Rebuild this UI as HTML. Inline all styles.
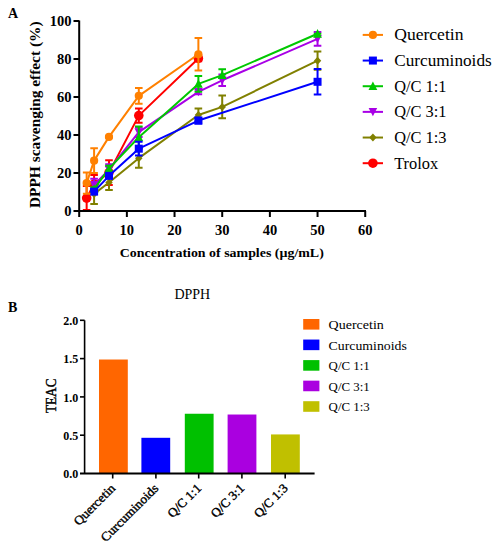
<!DOCTYPE html>
<html><head><meta charset="utf-8"><style>
html,body{margin:0;padding:0;background:#fff;width:500px;height:550px;overflow:hidden}
svg{display:block}
text{font-family:"Liberation Serif",serif}
</style></head><body>
<svg width="500" height="550" viewBox="0 0 500 550">
<rect width="500" height="550" fill="#fff"/>
<g stroke="#FF0000" stroke-width="2" fill="none"><path d="M86.65 198.08 L94.10 184.02 L108.99 172.62 L138.79 115.62 L198.38 58.43" stroke-linejoin="round"/><path d="M86.65 186.11V210.05M82.85 186.11H90.45M82.85 210.05H90.45"/><path d="M94.10 174.90V193.14M90.30 174.90H97.90M90.30 193.14H97.90"/><path d="M108.99 160.27V184.97M105.19 160.27H112.79M105.19 184.97H112.79"/><path d="M138.79 108.59V122.65M134.99 108.59H142.59M134.99 122.65H142.59"/><path d="M198.38 55.58V61.28M194.57 55.58H202.18M194.57 61.28H202.18"/></g><circle cx="86.65" cy="198.08" r="4.8" fill="#FF0000"/><circle cx="94.10" cy="184.02" r="4.8" fill="#FF0000"/><circle cx="108.99" cy="172.62" r="4.8" fill="#FF0000"/><circle cx="138.79" cy="115.62" r="4.8" fill="#FF0000"/><circle cx="198.38" cy="58.43" r="4.8" fill="#FF0000"/>
<g stroke="#808000" stroke-width="2" fill="none"><path d="M94.10 193.90 L108.99 182.50 L138.79 158.18 L198.38 115.05 L222.21 106.88 L317.55 60.71" stroke-linejoin="round"/><path d="M94.10 183.83V203.97M90.30 183.83H97.90M90.30 203.97H97.90"/><path d="M108.99 174.90V190.10M105.19 174.90H112.79M105.19 190.10H112.79"/><path d="M138.79 148.68V167.68M134.99 148.68H142.59M134.99 167.68H142.59"/><path d="M198.38 108.59V121.51M194.57 108.59H202.18M194.57 121.51H202.18"/><path d="M222.21 95.48V118.28M218.41 95.48H226.01M218.41 118.28H226.01"/><path d="M317.55 51.59V69.83M313.75 51.59H321.35M313.75 69.83H321.35"/></g><path d="M94.10 189.90L97.80 193.90L94.10 197.90L90.40 193.90Z" fill="#808000"/><path d="M108.99 178.50L112.69 182.50L108.99 186.50L105.29 182.50Z" fill="#808000"/><path d="M138.79 154.18L142.49 158.18L138.79 162.18L135.09 158.18Z" fill="#808000"/><path d="M198.38 111.05L202.07 115.05L198.38 119.05L194.68 115.05Z" fill="#808000"/><path d="M222.21 102.88L225.91 106.88L222.21 110.88L218.51 106.88Z" fill="#808000"/><path d="M317.55 56.71L321.25 60.71L317.55 64.71L313.85 60.71Z" fill="#808000"/>
<g stroke="#A800E6" stroke-width="2" fill="none"><path d="M94.10 184.97 L108.99 169.58 L138.79 132.15 L198.38 91.87 L222.21 80.28 L317.55 38.86" stroke-linejoin="round"/><path d="M94.10 178.70V191.24M90.30 178.70H97.90M90.30 191.24H97.90"/><path d="M108.99 164.26V174.90M105.19 164.26H112.79M105.19 174.90H112.79"/><path d="M138.79 127.40V136.90M134.99 127.40H142.59M134.99 136.90H142.59"/><path d="M198.38 89.59V94.15M194.57 89.59H202.18M194.57 94.15H202.18"/><path d="M222.21 74.58V85.98M218.41 74.58H226.01M218.41 85.98H226.01"/><path d="M317.55 32.02V45.70M313.75 32.02H321.35M313.75 45.70H321.35"/></g><path d="M94.10 189.27L98.40 181.07L89.80 181.07Z" fill="#A800E6"/><path d="M108.99 173.88L113.29 165.68L104.69 165.68Z" fill="#A800E6"/><path d="M138.79 136.45L143.09 128.25L134.49 128.25Z" fill="#A800E6"/><path d="M198.38 96.17L202.68 87.97L194.07 87.97Z" fill="#A800E6"/><path d="M222.21 84.58L226.51 76.38L217.91 76.38Z" fill="#A800E6"/><path d="M317.55 43.16L321.85 34.96L313.25 34.96Z" fill="#A800E6"/>
<g stroke="#00C800" stroke-width="2" fill="none"><path d="M94.10 189.15 L108.99 168.63 L138.79 137.28 L198.38 83.89 L222.21 75.15 L317.55 33.73" stroke-linejoin="round"/><path d="M94.10 187.25V191.05M90.30 187.25H97.90M90.30 191.05H97.90"/><path d="M108.99 165.78V171.48M105.19 165.78H112.79M105.19 171.48H112.79"/><path d="M138.79 126.45V148.11M134.99 126.45H142.59M134.99 148.11H142.59"/><path d="M198.38 76.10V91.68M194.57 76.10H202.18M194.57 91.68H202.18"/><path d="M222.21 69.26V78.00M218.41 69.26H226.01M218.41 78.00H226.01"/><path d="M317.55 33.73V33.73M313.75 33.73H321.35M313.75 33.73H321.35"/></g><path d="M94.10 184.45L98.50 193.05L89.70 193.05Z" fill="#00C800"/><path d="M108.99 163.93L113.39 172.53L104.59 172.53Z" fill="#00C800"/><path d="M138.79 132.58L143.19 141.18L134.39 141.18Z" fill="#00C800"/><path d="M198.38 79.19L202.78 87.79L193.97 87.79Z" fill="#00C800"/><path d="M222.21 70.45L226.61 79.05L217.81 79.05Z" fill="#00C800"/><path d="M317.55 29.03L321.95 37.63L313.15 37.63Z" fill="#00C800"/>
<g stroke="#0000FF" stroke-width="2" fill="none"><path d="M94.10 191.62 L108.99 175.85 L138.79 148.68 L198.38 120.56 L317.55 81.80" stroke-linejoin="round"/><path d="M94.10 189.34V193.90M90.30 189.34H97.90M90.30 193.90H97.90"/><path d="M108.99 173.57V178.13M105.19 173.57H112.79M105.19 178.13H112.79"/><path d="M138.79 141.84V155.52M134.99 141.84H142.59M134.99 155.52H142.59"/><path d="M198.38 117.71V123.41M194.57 117.71H202.18M194.57 123.41H202.18"/><path d="M317.55 69.07V94.53M313.75 69.07H321.35M313.75 94.53H321.35"/></g><rect x="90.10" y="187.62" width="8" height="8" fill="#0000FF"/><rect x="104.99" y="171.85" width="8" height="8" fill="#0000FF"/><rect x="134.79" y="144.68" width="8" height="8" fill="#0000FF"/><rect x="194.38" y="116.56" width="8" height="8" fill="#0000FF"/><rect x="313.55" y="77.80" width="8" height="8" fill="#0000FF"/>
<g stroke="#FF8000" stroke-width="2" fill="none"><path d="M86.65 183.07 L94.10 160.65 L108.99 136.90 L138.79 95.86 L198.38 54.25" stroke-linejoin="round"/><path d="M86.65 172.43V193.71M82.85 172.43H90.45M82.85 193.71H90.45"/><path d="M94.10 148.30V173.00M90.30 148.30H97.90M90.30 173.00H97.90"/><path d="M108.99 136.33V137.47M105.19 136.33H112.79M105.19 137.47H112.79"/><path d="M138.79 87.88V103.84M134.99 87.88H142.59M134.99 103.84H142.59"/><path d="M198.38 38.10V70.40M194.57 38.10H202.18M194.57 70.40H202.18"/></g><circle cx="86.65" cy="183.07" r="4.1" fill="#FF8000"/><circle cx="94.10" cy="160.65" r="4.1" fill="#FF8000"/><circle cx="108.99" cy="136.90" r="4.1" fill="#FF8000"/><circle cx="138.79" cy="95.86" r="4.1" fill="#FF8000"/><circle cx="198.38" cy="54.25" r="4.1" fill="#FF8000"/>
<g stroke="#000" stroke-width="2" fill="none"><path d="M79.2 20.5V217M73.5 211.0H366"/><path d="M73.5 173.00H79.2"/><path d="M73.5 135.00H79.2"/><path d="M73.5 97.00H79.2"/><path d="M73.5 59.00H79.2"/><path d="M73.5 21.00H79.2"/><path d="M126.87 211.0V217"/><path d="M174.54 211.0V217"/><path d="M222.21 211.0V217"/><path d="M269.88 211.0V217"/><path d="M317.55 211.0V217"/><path d="M365.22 211.0V217"/></g>
<g font-family="Liberation Serif" font-weight="bold" font-size="14.5" fill="#000"><text x="71.5" y="216.00" text-anchor="end">0</text><text x="71.5" y="178.00" text-anchor="end">20</text><text x="71.5" y="140.00" text-anchor="end">40</text><text x="71.5" y="102.00" text-anchor="end">60</text><text x="71.5" y="64.00" text-anchor="end">80</text><text x="71.5" y="26.00" text-anchor="end">100</text><text x="79.20" y="235" text-anchor="middle">0</text><text x="126.87" y="235" text-anchor="middle">10</text><text x="174.54" y="235" text-anchor="middle">20</text><text x="222.21" y="235" text-anchor="middle">30</text><text x="269.88" y="235" text-anchor="middle">40</text><text x="317.55" y="235" text-anchor="middle">50</text><text x="365.22" y="235" text-anchor="middle">60</text><text x="119.8" y="257.3" font-size="13" textLength="204" lengthAdjust="spacingAndGlyphs">Concentration of samples (µg/mL)</text><text transform="translate(39.8 208) rotate(-90)" x="0" y="0" font-size="13.6" textLength="186.5" lengthAdjust="spacingAndGlyphs">DPPH scavenging effect (%)</text><text x="8" y="17.6" font-size="14">A</text></g>
<g font-family="Liberation Serif" font-size="16.2" fill="#000"><path d="M362.7 34.90H383" stroke="#FF8000" stroke-width="2"/><circle cx="372.90" cy="34.90" r="4.1" fill="#FF8000"/><text x="394.2" y="40.20" textLength="69.3" lengthAdjust="spacingAndGlyphs">Quercetin</text><path d="M362.7 60.56H383" stroke="#0000FF" stroke-width="2"/><rect x="368.90" y="56.56" width="8" height="8" fill="#0000FF"/><text x="394.2" y="65.86" textLength="97.5" lengthAdjust="spacingAndGlyphs">Curcuminoids</text><path d="M362.7 86.22H383" stroke="#00C800" stroke-width="2"/><path d="M372.90 81.52L377.30 90.12L368.50 90.12Z" fill="#00C800"/><text x="394.2" y="91.52" textLength="52.3" lengthAdjust="spacingAndGlyphs">Q/C 1:1</text><path d="M362.7 111.88H383" stroke="#A800E6" stroke-width="2"/><path d="M372.90 116.18L377.20 107.98L368.60 107.98Z" fill="#A800E6"/><text x="394.2" y="117.18" textLength="52.3" lengthAdjust="spacingAndGlyphs">Q/C 3:1</text><path d="M362.7 137.54H383" stroke="#808000" stroke-width="2"/><path d="M372.90 133.54L376.60 137.54L372.90 141.54L369.20 137.54Z" fill="#808000"/><text x="394.2" y="142.84" textLength="52.3" lengthAdjust="spacingAndGlyphs">Q/C 1:3</text><path d="M362.7 163.20H383" stroke="#FF0000" stroke-width="2"/><circle cx="372.90" cy="163.20" r="4.8" fill="#FF0000"/><text x="394.2" y="168.50" textLength="44.0" lengthAdjust="spacingAndGlyphs">Trolox</text></g>
<rect x="99.0" y="359.52" width="28.8" height="113.98" fill="#FF6600"/>
<rect x="141.4" y="437.80" width="28.8" height="35.70" fill="#0000FF"/>
<rect x="184.8" y="413.75" width="28.8" height="59.75" fill="#00C000"/>
<rect x="227.6" y="414.52" width="28.8" height="58.98" fill="#AA00E0"/>
<rect x="271.0" y="434.43" width="28.8" height="39.07" fill="#C0C000"/>
<g stroke="#000" stroke-width="1.6" fill="none"><path d="M84.6 320.30V473.5"/><path d="M80 473.5H314.6" stroke-width="2"/><path d="M80 435.20H84.6"/><path d="M80 396.90H84.6"/><path d="M80 358.60H84.6"/><path d="M80 320.30H84.6"/><path d="M112.7 473.5V478.5"/><path d="M155.9 473.5V478.5"/><path d="M198.7 473.5V478.5"/><path d="M241.9 473.5V478.5"/><path d="M285.2 473.5V478.5"/></g>
<g font-family="Liberation Serif" font-weight="bold" font-size="11.5" fill="#000"><text x="78.2" y="478.10" text-anchor="end" font-size="12">0.0</text><text x="78.2" y="439.80" text-anchor="end" font-size="12">0.5</text><text x="78.2" y="401.50" text-anchor="end" font-size="12">1.0</text><text x="78.2" y="363.20" text-anchor="end" font-size="12">1.5</text><text x="78.2" y="324.90" text-anchor="end" font-size="12">2.0</text><text transform="translate(116.00 489) rotate(-45)" text-anchor="end" font-size="12.6" font-weight="normal" stroke="#000" stroke-width="0.4" textLength="52.8" lengthAdjust="spacingAndGlyphs">Quercetin</text><text transform="translate(159.20 489) rotate(-45)" text-anchor="end" font-size="12.6" font-weight="normal" stroke="#000" stroke-width="0.4" textLength="75.5" lengthAdjust="spacingAndGlyphs">Curcuminoids</text><text transform="translate(202.00 489) rotate(-45)" text-anchor="end" font-size="12.6" font-weight="normal" stroke="#000" stroke-width="0.4" textLength="41.6" lengthAdjust="spacingAndGlyphs">Q/C 1:1</text><text transform="translate(245.20 489) rotate(-45)" text-anchor="end" font-size="12.6" font-weight="normal" stroke="#000" stroke-width="0.4" textLength="41.6" lengthAdjust="spacingAndGlyphs">Q/C 3:1</text><text transform="translate(288.50 489) rotate(-45)" text-anchor="end" font-size="12.6" font-weight="normal" stroke="#000" stroke-width="0.4" textLength="41.6" lengthAdjust="spacingAndGlyphs">Q/C 1:3</text><text x="8" y="311.8" font-size="14">B</text></g>
<text x="174.4" y="298.5" font-family="Liberation Serif" font-size="14">DPPH</text>
<text transform="translate(56 413.1) rotate(-90)" font-family="Liberation Serif" font-size="14.2" stroke="#000" stroke-width="0.4" textLength="34.6" lengthAdjust="spacingAndGlyphs">TEAC</text>
<g font-family="Liberation Serif" font-size="12.6" fill="#000"><rect x="303.2" y="319.00" width="16.2" height="10.6" fill="#FF6600"/><text x="328.6" y="329.10" textLength="55.2" lengthAdjust="spacingAndGlyphs">Quercetin</text><rect x="303.2" y="339.55" width="16.2" height="10.6" fill="#0000FF"/><text x="328.6" y="349.65" textLength="78.2" lengthAdjust="spacingAndGlyphs">Curcuminoids</text><rect x="303.2" y="360.10" width="16.2" height="10.6" fill="#00C000"/><text x="328.6" y="370.20" textLength="41.2" lengthAdjust="spacingAndGlyphs">Q/C 1:1</text><rect x="303.2" y="380.65" width="16.2" height="10.6" fill="#AA00E0"/><text x="328.6" y="390.75" textLength="41.2" lengthAdjust="spacingAndGlyphs">Q/C 3:1</text><rect x="303.2" y="401.20" width="16.2" height="10.6" fill="#C0C000"/><text x="328.6" y="411.30" textLength="41.2" lengthAdjust="spacingAndGlyphs">Q/C 1:3</text></g>
</svg>
</body></html>
